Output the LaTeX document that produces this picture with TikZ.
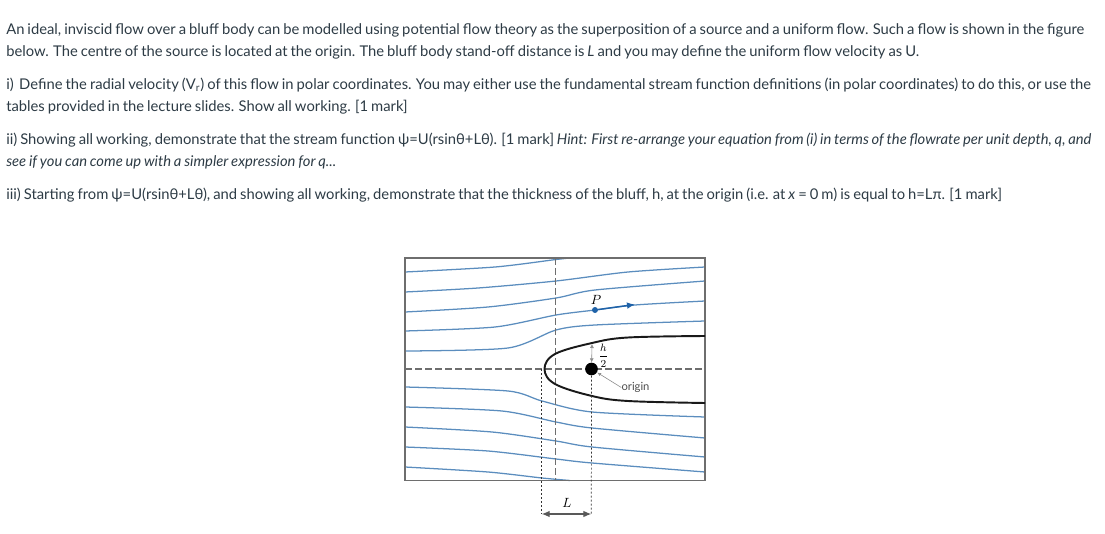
\documentclass[tikz,border=0pt]{standalone}
\usepackage{fontspec}
\setmainfont{Lato}[WordSpace=0.8]
\usetikzlibrary{arrows.meta}
\definecolor{textgrey}{HTML}{2D3B45}
\definecolor{streamblue}{HTML}{5B8DBE}
\definecolor{pointblue}{HTML}{1F62A8}
\definecolor{framegrey}{HTML}{6E6E6E}
\tikzset{
    textline/.style={anchor=base west, inner sep=0pt, text=textgrey, font=\fontsize{11.08}{13}\selectfont},
    streamline/.style={streamblue, line width=0.95pt},
    axisdash/.style={framegrey, line width=0.85pt, dash pattern=on 5pt off 2.5pt},
    guidedot/.style={black!80, line width=0.55pt, dash pattern=on 1.6pt off 1.4pt},
}
\begin{document}
\begin{tikzpicture}[x=0.75pt,y=-0.75pt]
\useasboundingbox (0,0) rectangle (1105,534);
\node [textline] (lineA) at (6,34.5) {An ideal, inviscid flow over a bluff body can be modelled using potential flow theory as the superposition of a source and a uniform flow. Such a flow is shown in the figure};
\node [textline] (lineB) at (6,56.5) {below. The centre of the source is located at the origin. The bluff body stand-off distance is \textit{L} and you may define the uniform flow velocity as U.};
\node [textline] (lineC) at (6,89.5) {i)\, Define the radial velocity (V\textsubscript{r}) of this flow in polar coordinates. You may either use the fundamental stream function definitions (in polar coordinates) to do this, or use the};
\node [textline] (lineD) at (6,111.5) {tables provided in the lecture slides. Show all working. [1 mark]};
\node [textline] (lineE) at (6,144.5) {ii) Showing all working, demonstrate that the stream function ψ=U(rsinθ+Lθ). [1 mark] \textit{Hint: First re-arrange your equation from (i) in terms of the flowrate per unit depth, q, and}};
\node [textline] (lineF) at (6,166.5) {\textit{see if you can come up with a simpler expression for q...}};
\node [textline] (lineG) at (6,199.5) {iii) Starting from ψ=U(rsinθ+Lθ), and showing all working, demonstrate that the thickness of the bluff, h, at the origin (i.e. at \textit{x} = 0 m) is equal to h=Lπ. [1 mark]};
% streamlines
\foreach \pts in {
    {(405,272) (495,267) (556,259.5) (570,258)},
    {(405,292) (478,288) (556,281) (628,272) (705,267)},
    {(405,312) (488,307) (556,298) (595,290) (705,281)},
    {(405,331) (495,327) (556,315) (595,310) (635,305) (705,301)},
    {(405,351) (508,348) (556,330) (595,325) (705,321)},
    {(405,387) (508,391) (542,401) (592,412) (705,417)},
    {(405,407) (502,411) (556,422) (592,428) (705,438)},
    {(405,427) (492,432) (556,441) (592,447) (705,457)},
    {(405,447) (488,451) (556,459) (592,463) (705,472)},
    {(405,467) (488,472) (542,478) (570,480.5)}}
    \draw [streamline] plot [smooth, tension=0.45] coordinates {\pts};
% frame and axes
\draw [framegrey, line width=0.9pt] (405,258) rectangle (705,480.5);
\draw [axisdash] (405,369) -- (705,369);
\draw [axisdash] (555.7,258) -- (555.7,480.5);
% bluff body
\draw [black!90, line width=1.45pt] plot [smooth, tension=0.6] coordinates {(705,336) (628,337.5) (592,343) (555,354) (544.5,369) (555,384) (592,396) (628,401) (705,403)};
% origin and point P
\node [circle, fill=black, inner sep=0pt, minimum size=9.5pt] (origin) at (591.5,369) {};
\node [circle, fill=pointblue, inner sep=0pt, minimum size=4.5pt] (pointP) at (595,310) {};
\coordinate (tipP) at (635,304.5);
\draw [-{Latex[length=6pt,width=5pt]}, pointblue, line width=1.1pt] (pointP) -- (tipP);
\node [inner sep=0pt, font=\normalsize] (labelP) at (596,299.5) {$P$};
% dimensions
\coordinate (dimA) at (541.7,514);
\coordinate (dimB) at (591.3,514);
\coordinate (noseA) at (541.7,369);
\draw [guidedot] (noseA) -- (dimA);
\draw [guidedot] (origin) -- (dimB);
\draw [{Latex[length=6pt,width=5pt]}-{Latex[length=6pt,width=5pt]}, black!65, line width=0.9pt] (dimA) -- (dimB);
\node [inner sep=0pt, font=\normalsize] (labelL) at (567,503) {$L$};
\coordinate (bodyTop) at (592,344);
\draw [{Latex[length=3pt,width=3pt]}-{Latex[length=3pt,width=3pt]}, black!45, line width=0.45pt] (bodyTop) -- (origin);
\node [inner sep=0pt, font=\footnotesize] (labelH) at (603.5,356) {$\displaystyle\frac{h}{2}$};
\node [inner sep=0pt, text=black!70, font=\fontsize{8.4}{10}\selectfont] (labelO) at (635.5,387.5) {origin};
\draw [-{Latex[length=3pt,width=2.5pt]}, black!45, line width=0.45pt] (labelO.west) -- (origin);
\end{tikzpicture}
\end{document}
